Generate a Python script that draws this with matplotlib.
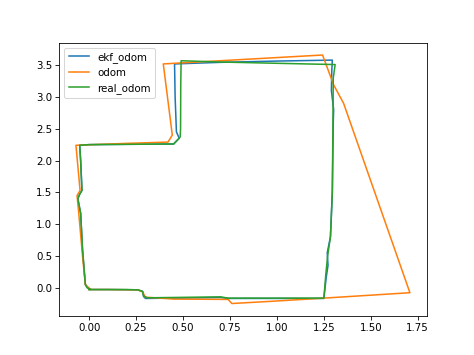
import matplotlib
matplotlib.use("Agg")
import matplotlib.pyplot as plt

# ekf_odom
ekf_x = [0.00, 0.10, 0.26, 0.285, 0.29, 0.30, 0.45, 0.70, 0.74, 1.00, 1.25, 1.262, 1.272, 1.268, 1.285, 1.295, 1.300, 1.302, 1.290, 1.292, 1.295,
         1.00, 0.70, 0.455, 0.458, 0.465, 0.480, 0.45, 0.20, 0.00, -0.05, -0.045, -0.038, -0.05, -0.06, -0.045, -0.035, -0.02, -0.01, 0.005]
ekf_y = [-0.03, -0.03, -0.035, -0.06, -0.14, -0.17, -0.165, -0.155, -0.17, -0.17, -0.17, 0.15, 0.35, 0.55, 0.80, 1.50, 2.60, 2.80, 3.10, 3.40, 3.58,
         3.565, 3.545, 3.52, 3.00, 2.45, 2.35, 2.26, 2.255, 2.25, 2.24, 2.00, 1.53, 1.47, 1.40, 1.17, 0.60, 0.05, 0.00, -0.025]

# odom
odom_x = [0.00, 0.10, 0.26, 0.285, 0.30, 0.45, 0.74, 0.76, 1.00, 1.25, 1.708, 1.355, 1.302, 1.243, 0.395, 0.443, 0.42, 0.20,
          -0.07, -0.048, -0.064, -0.055, -0.035, -0.02, 0.005]
odom_y = [-0.03, -0.03, -0.035, -0.07, -0.15, -0.18, -0.185, -0.25, -0.21, -0.165, -0.08, 2.90, 3.19, 3.66, 3.52, 2.40, 2.29, 2.27,
          2.24, 1.53, 1.45, 1.17, 0.50, 0.05, -0.02]

# real_odom
real_x = [0.00, 0.10, 0.20, 0.26, 0.285, 0.29, 0.31, 0.45, 0.70, 0.74, 1.00, 1.25, 1.26, 1.27, 1.285, 1.295, 1.298, 1.30, 1.31,
          1.00, 0.70, 0.49, 0.488, 0.487, 0.485, 0.45, 0.20, 0.00, -0.05, -0.045, -0.038, -0.05, -0.06, -0.045, -0.035, -0.02, -0.01, 0.005]
real_y = [-0.03, -0.03, -0.03, -0.035, -0.06, -0.13, -0.16, -0.155, -0.145, -0.165, -0.165, -0.165, 0.20, 0.50, 0.80, 1.50, 2.50, 3.30, 3.51,
          3.53, 3.55, 3.57, 3.20, 2.50, 2.37, 2.26, 2.255, 2.25, 2.24, 2.00, 1.53, 1.47, 1.40, 1.17, 0.60, 0.05, 0.00, -0.025]

fig, ax = plt.subplots(figsize=(474 / 74, 355 / 74), dpi=74)
ax.plot(ekf_x, ekf_y, label="ekf_odom")
ax.plot(odom_x, odom_y, label="odom")
ax.plot(real_x, real_y, label="real_odom")
ax.legend(loc="upper left")
fig.savefig("out.png", dpi=74)
